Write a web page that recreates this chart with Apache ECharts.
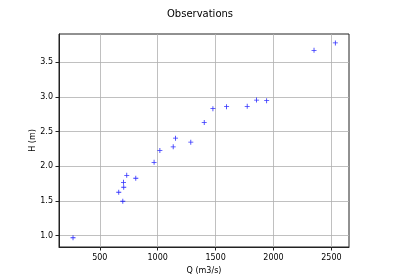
<!DOCTYPE html>
<html lang="en">
<head>
    <meta charset="UTF-8">
    <title>Observations</title>
    <script src="https://cdn.jsdelivr.net/npm/echarts@6/dist/echarts.min.js"></script>
    <style type="text/css">
        html, body { margin: 0; height: 100%; background: #fff; }
        #main { width: 400px; height: 280px; }
    </style>
</head>
<body>
    <div id="main"></div>
    <script type="text/javascript">
        // observed discharge Q (m3/s) and height H (m)
        var qValues = [269, 664, 699, 707, 705, 733, 811, 969, 1019, 1134,
                       1154, 1286, 1402, 1477, 1595, 1773, 1854, 1941, 2350, 2534];
        var hValues = [0.967, 1.624, 1.494, 1.695, 1.767, 1.868, 1.825, 2.055, 2.227, 2.279,
                       2.404, 2.346, 2.629, 2.830, 2.859, 2.864, 2.954, 2.945, 3.672, 3.779];
        // tick labels
        var xTicks = [500, 1000, 1500, 2000, 2500];
        var yTicks = [1.0, 1.5, 2.0, 2.5, 3.0, 3.5];

        var points = qValues.map(function (q, i) { return [q, hValues[i]]; });

        var chart = echarts.init(document.getElementById('main'));
        var font = 'DejaVu Sans';
        var option = {
            backgroundColor: '#fff',
            animation: false,
            title: {
                text: 'Observations',
                left: 'center',
                top: 4,
                textStyle: { fontFamily: font, fontSize: 10, fontWeight: 'normal', color: '#000' }
            },
            grid: {
                left: 59, right: 51, top: 34, bottom: 32,
                show: true, borderColor: '#222', borderWidth: 1
            },
            xAxis: {
                type: 'value',
                min: 148, max: 2652,
                name: 'Q (m3/s)',
                nameLocation: 'middle',
                nameGap: 20,
                nameMoveOverlap: false,
                nameTextStyle: { fontFamily: font, fontSize: 8, color: '#000' },
                axisLine: { show: true, lineStyle: { color: '#222', width: 1 } },
                axisTick: { show: true, length: 3.5, customValues: xTicks, lineStyle: { color: '#222' } },
                axisLabel: {
                    customValues: xTicks, margin: 7, fontFamily: font, fontSize: 8, color: '#000',
                    formatter: function (v) { return String(v); }
                },
                splitLine: { show: true, lineStyle: { color: '#b0b0b0', width: 0.8 } }
            },
            yAxis: {
                type: 'value',
                min: 0.833, max: 3.908,
                name: 'H (m)',
                nameLocation: 'middle',
                nameGap: 22,
                nameMoveOverlap: false,
                nameTextStyle: { fontFamily: font, fontSize: 8, color: '#000' },
                axisLine: { show: true, lineStyle: { color: '#222', width: 1 } },
                axisTick: { show: true, length: 3.5, customValues: yTicks, lineStyle: { color: '#222' } },
                axisLabel: {
                    customValues: yTicks, margin: 6, fontFamily: font, fontSize: 8, color: '#000',
                    formatter: function (v) { return v.toFixed(1); }
                },
                splitLine: { show: true, lineStyle: { color: '#b0b0b0', width: 0.8 } }
            },
            series: [{
                type: 'scatter',
                data: points,
                symbol: 'path://M0,2.5H6V3.5H0Z M2.5,0H3.5V6H2.5Z',
                symbolSize: 5,
                itemStyle: { color: '#0000ff' }
            }]
        };
        chart.setOption(option);
    </script>
</body>
</html>
